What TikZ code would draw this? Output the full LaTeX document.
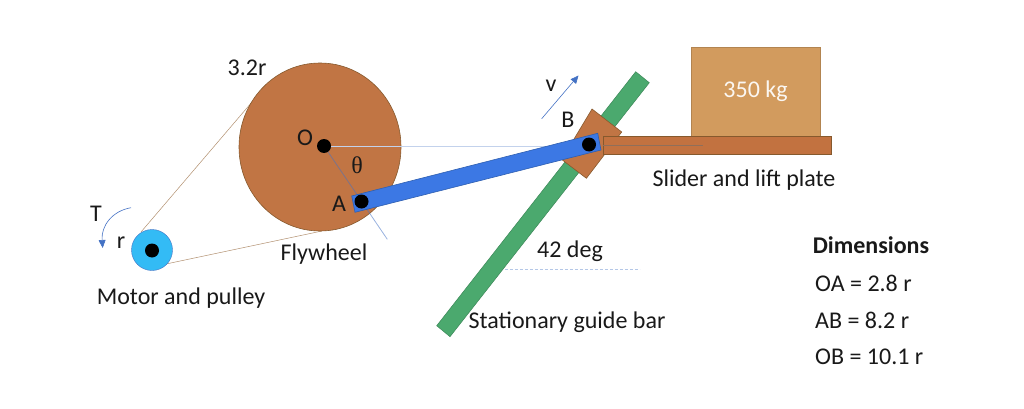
\documentclass[tikz,border=0pt]{standalone}
\usepackage{fontspec}
\setmainfont{Carlito}
\newfontfamily\thetafont{Liberation Serif}
\usetikzlibrary{shapes.geometric,arrows.meta}
\definecolor{wheelbrown}{HTML}{C17544}
\definecolor{platebrown}{HTML}{C27240}
\definecolor{boxtan}{HTML}{D29B5E}
\definecolor{barblue}{HTML}{3C78E4}
\definecolor{barline}{HTML}{2F5FB0}
\definecolor{guidegreen}{HTML}{4BA96E}
\definecolor{pulleyblue}{HTML}{33BBF5}
\definecolor{axisblue}{HTML}{4472C4}
\def\labelsize{\fontsize{24}{28}\selectfont}

\begin{document}
\begin{tikzpicture}[x=1pt,y=-1pt,font=\labelsize]
        \tikzstyle{joint}=[circle,fill=black,minimum size=14pt,inner sep=0pt]
        \tikzstyle{body}=[draw=brown!70!black,line width=0.6pt,fill=wheelbrown]
        \tikzstyle{belt}=[draw=brown!75!black!70,line width=0.5pt]
        \tikzstyle{thin axis}=[draw=axisblue,line width=0.6pt]
        \tikzstyle{annot}=[inner sep=0pt,text=black!90]

        \useasboundingbox (0,0) rectangle (1024,409);

        % Draw the belt ends first so the wheels sit on top
        \coordinate (belt-1) at (252,102);
        \coordinate (belt-2) at (141,232);
        \coordinate (belt-3) at (322,231);
        \coordinate (belt-4) at (166,264);
        \path[belt] (belt-1) edge (belt-2) (belt-3) edge (belt-4);

        % Draw the flywheel and the pulley
        \node[body,ellipse,minimum width=162pt,minimum height=168pt,inner sep=0pt] (wheel) at (320,147) {};
        \node[circle,draw=axisblue,fill=pulleyblue,minimum size=41pt,inner sep=0pt] (pulley) at (152,250) {};

        % Draw the stationary guide bar
        \draw[draw=guidegreen!80!black,fill=guidegreen,line width=0.5pt]
            (635.7,71.7) -- (649.3,82.7) -- (450,336.7) -- (436.7,325.7) -- cycle;

        % Draw the slider and the plate with its load
        \draw[body] (592,109) -- (621.7,132) -- (586.4,178.3) -- (561.7,159.5) -- cycle;
        \node[draw=boxtan!85!black,fill=boxtan,line width=0.8pt,minimum width=129pt,minimum height=89pt,inner sep=0pt,text=white!92!boxtan] (load) at (755.5,91.7) {350 kg};
        \node[body,fill=platebrown,minimum width=228pt,minimum height=18pt,inner sep=0pt] (plate) at (717,145.3) {};

        % Draw the centre lines
        \coordinate (A-end) at (387.3,239.3);
        \coordinate (plate-end) at (703,145);
        \coordinate (O-pos) at (324,146);
        \draw[axisblue!32,line width=1pt] (O-pos) -- (589,146);
        \draw[draw=axisblue,draw opacity=0.55,line width=0.8pt] (O-pos) -- (A-end);
        \draw[black!45!platebrown!75!white,line width=0.9pt] (plate.west |- plate-end) -- (plate-end);

        % Draw the connecting rod
        \draw[draw=barline,fill=barblue,line width=0.6pt]
            (351.7,196) -- (597.7,133.3) -- (601,150) -- (355,212.3) -- cycle;

        % Draw the pins
        \foreach \name / \x / \y in {O/324/146,A/361.5/201.5,B/589/144.5,P/152/250.5}
        \node[joint] (pin-\name) at (\x,\y) {};

        % Draw the 42 deg reference line
        \coordinate (ref-1) at (505,269);
        \coordinate (ref-2) at (640,269);
        \draw[axisblue!40,line width=0.6pt,densely dashed] (ref-1) -- (ref-2);

        % Draw the velocity and torque arrows
        \coordinate (v-1) at (541.7,118.7);
        \coordinate (v-2) at (578.5,75.5);
        \coordinate (T-1) at (131,207.7);
        \coordinate (T-2) at (102.7,248);
        \draw[-{Triangle[length=8pt,width=7pt]},thin axis] (v-1) -- (v-2);
        \draw[-{Triangle[length=8pt,width=7pt]},thin axis] (T-1) .. controls (112,211) and (101,226) .. (T-2);

        % Annotate the picture
        \node[annot] (lab-wheel) at (247,68) {3.2r};
        \node[annot] (lab-O) at (305,138) {O};
        \node[annot] (lab-theta) at (357,165) {\thetafont θ};
        \node[annot] (lab-A) at (339,204) {A};
        \node[annot] (lab-T) at (96,214) {T};
        \node[annot] (lab-r) at (121,243) {r};
        \node[annot] (lab-fly) at (324,254) {Flywheel};
        \node[annot] (lab-motor) at (181,298) {Motor and pulley};
        \node[annot] (lab-v) at (551,86) {v};
        \node[annot] (lab-B) at (568,120) {B};
        \node[annot] (lab-plate) at (744,180) {Slider and lift plate};
        \node[annot] (lab-deg) at (570,251) {42 deg};
        \node[annot] (lab-guide) at (567,322) {Stationary guide bar};

        % Annotate the dimensions
        \node[annot,font=\labelsize\bfseries] (dim-0) at (871,245) {Dimensions};
        \foreach \name / \y / \txt in {1/283/OA = 2.8 r,2/320/AB = 8.2 r,3/357/OB = 10.1 r}
        \node[annot,anchor=west] (dim-\name) at (815,\y) {\txt};
\end{tikzpicture}
\end{document}
